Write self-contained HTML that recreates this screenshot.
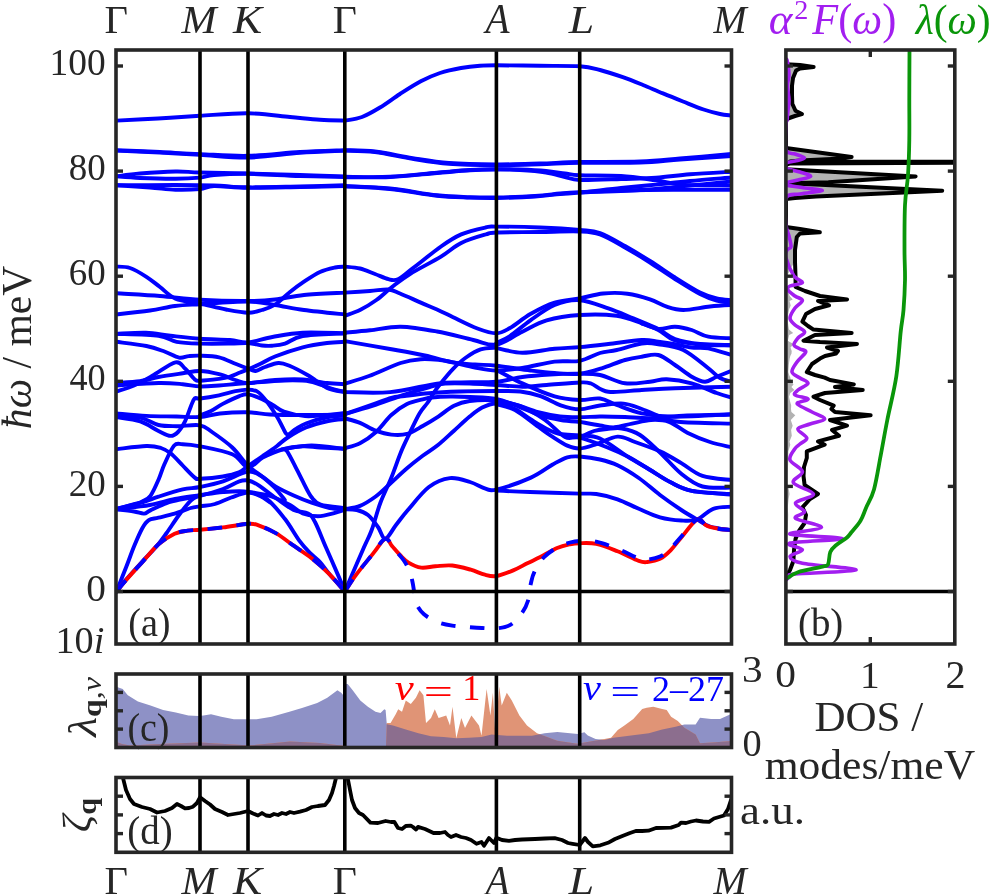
<!DOCTYPE html><html><head><meta charset="utf-8"><style>html,body{margin:0;padding:0;background:#fff;}svg{display:block;}text{font-family:"Liberation Serif","DejaVu Serif",serif;fill:#262626;}.it{font-style:italic;}</style></head><body>
<svg width="990" height="894" viewBox="0 0 990 894">
<rect width="990" height="894" fill="#fff"/>
<defs><clipPath id="cpA"><rect x="116.0" y="50.0" width="615.5" height="594.0"/></clipPath>
<clipPath id="cpB"><rect x="785.9" y="50.0" width="168.9" height="594.0"/></clipPath>
<clipPath id="cpBlue"><path d="M116.5 747.5 L116.5 687.0 L117.7 687.2 L122.7 689.0 L127.8 695.3 L137.9 701.6 L150.5 705.4 L163.1 710.0 L175.8 712.5 L188.4 715.5 L198.5 716.0 L203.5 715.5 L211.0 714.2 L221.2 716.8 L233.8 719.3 L246.5 719.3 L256.6 719.3 L271.7 716.8 L289.4 711.7 L302.0 708.0 L317.2 702.9 L327.3 697.8 L337.4 690.3 L341.2 692.8 L344.0 696.0 L346.0 684.0 L347.7 683.9 L352.7 690.3 L360.3 700.4 L367.9 706.7 L375.5 711.7 L380.5 713.0 L384.3 709.2 L385.6 710.0 L386.8 724.3 L393.0 725.6 L405.8 729.4 L418.4 733.2 L431.0 736.2 L443.6 737.0 L456.3 738.2 L468.9 737.7 L481.5 737.0 L491.6 734.4 L506.8 735.7 L532.0 735.7 L544.6 733.2 L557.3 731.9 L577.8 734.0 L584.4 732.2 L587.8 735.6 L595.6 738.9 L604.4 740.0 L613.3 737.8 L631.1 735.6 L648.9 733.3 L662.2 729.6 L675.6 726.7 L684.4 724.4 L695.6 724.4 L700.0 717.8 L711.1 718.9 L720.0 718.9 L730.0 714.4 L731.5 714.0 L731.5 747.5 Z"/></clipPath>
</defs>
<path d="M116.5 747.5 L116.5 687.0 L117.7 687.2 L122.7 689.0 L127.8 695.3 L137.9 701.6 L150.5 705.4 L163.1 710.0 L175.8 712.5 L188.4 715.5 L198.5 716.0 L203.5 715.5 L211.0 714.2 L221.2 716.8 L233.8 719.3 L246.5 719.3 L256.6 719.3 L271.7 716.8 L289.4 711.7 L302.0 708.0 L317.2 702.9 L327.3 697.8 L337.4 690.3 L341.2 692.8 L344.0 696.0 L346.0 684.0 L347.7 683.9 L352.7 690.3 L360.3 700.4 L367.9 706.7 L375.5 711.7 L380.5 713.0 L384.3 709.2 L385.6 710.0 L386.8 724.3 L393.0 725.6 L405.8 729.4 L418.4 733.2 L431.0 736.2 L443.6 737.0 L456.3 738.2 L468.9 737.7 L481.5 737.0 L491.6 734.4 L506.8 735.7 L532.0 735.7 L544.6 733.2 L557.3 731.9 L577.8 734.0 L584.4 732.2 L587.8 735.6 L595.6 738.9 L604.4 740.0 L613.3 737.8 L631.1 735.6 L648.9 733.3 L662.2 729.6 L675.6 726.7 L684.4 724.4 L695.6 724.4 L700.0 717.8 L711.1 718.9 L720.0 718.9 L730.0 714.4 L731.5 714.0 L731.5 747.5 Z" fill="#8e91c6"/>
<path d="M116.5 747.5 L116.5 742.0 L122.0 744.0 L130.0 745.5 L160.0 744.0 L200.0 742.5 L225.0 744.0 L250.0 745.5 L270.0 743.5 L290.0 741.5 L320.0 743.0 L345.0 746.0 L386.0 746.0 L386.8 723.0 L390.6 723.0 L395.7 714.2 L398.2 709.2 L402.0 711.7 L405.8 700.4 L410.8 704.1 L415.9 697.8 L419.6 690.3 L423.4 695.3 L426.0 723.0 L431.0 718.0 L434.8 709.2 L438.6 718.0 L446.2 715.5 L450.0 725.6 L452.5 706.7 L456.3 738.2 L461.3 718.0 L465.0 728.0 L471.4 715.5 L479.0 725.6 L481.5 735.7 L486.6 689.0 L490.4 715.5 L492.9 692.8 L495.4 735.7 L499.2 686.5 L501.7 705.4 L506.8 692.8 L511.8 700.4 L519.4 715.5 L527.0 725.6 L537.0 733.2 L557.3 740.8 L577.5 743.8 L604.4 738.9 L611.0 737.8 L617.8 730.0 L624.4 725.6 L633.3 718.9 L642.2 708.9 L646.7 707.8 L653.3 706.7 L662.2 708.9 L666.7 710.0 L671.1 716.7 L677.8 721.1 L684.4 727.8 L695.6 734.4 L700.0 743.3 L715.6 742.2 L731.5 741.0 L731.5 747.5 Z" fill="#e09476"/>
<path d="M116.5 747.5 L116.5 742.0 L122.0 744.0 L130.0 745.5 L160.0 744.0 L200.0 742.5 L225.0 744.0 L250.0 745.5 L270.0 743.5 L290.0 741.5 L320.0 743.0 L345.0 746.0 L386.0 746.0 L386.8 723.0 L390.6 723.0 L395.7 714.2 L398.2 709.2 L402.0 711.7 L405.8 700.4 L410.8 704.1 L415.9 697.8 L419.6 690.3 L423.4 695.3 L426.0 723.0 L431.0 718.0 L434.8 709.2 L438.6 718.0 L446.2 715.5 L450.0 725.6 L452.5 706.7 L456.3 738.2 L461.3 718.0 L465.0 728.0 L471.4 715.5 L479.0 725.6 L481.5 735.7 L486.6 689.0 L490.4 715.5 L492.9 692.8 L495.4 735.7 L499.2 686.5 L501.7 705.4 L506.8 692.8 L511.8 700.4 L519.4 715.5 L527.0 725.6 L537.0 733.2 L557.3 740.8 L577.5 743.8 L604.4 738.9 L611.0 737.8 L617.8 730.0 L624.4 725.6 L633.3 718.9 L642.2 708.9 L646.7 707.8 L653.3 706.7 L662.2 708.9 L666.7 710.0 L671.1 716.7 L677.8 721.1 L684.4 727.8 L695.6 734.4 L700.0 743.3 L715.6 742.2 L731.5 741.0 L731.5 747.5 Z" fill="#8c6e8e" clip-path="url(#cpBlue)"/>
<g clip-path="url(#cpA)" fill="none" stroke-linecap="round" stroke-linejoin="round">
<path d="M116.5 120.6 C123.4 120.2 144.1 119.3 158.0 118.5 C171.9 117.7 185.0 116.7 200.0 115.8 C215.0 114.9 233.0 113.1 248.0 113.3 C263.0 113.5 278.0 115.9 290.0 117.0 C302.0 118.1 310.9 119.2 320.0 119.8 C329.1 120.4 340.7 120.5 344.8 120.6" stroke="#0000ff" stroke-width="3.9"/>
<path d="M116.5 150.2 C123.8 150.5 146.1 151.3 160.0 152.0 C173.9 152.7 185.3 153.5 200.0 154.1 C214.7 154.7 231.3 156.2 248.0 155.8 C264.7 155.5 283.9 152.9 300.0 152.0 C316.1 151.1 337.3 150.5 344.8 150.2" stroke="#0000ff" stroke-width="3.9"/>
<path d="M116.5 150.6 C123.8 150.9 146.1 151.9 160.0 152.6 C173.9 153.3 185.3 154.0 200.0 154.8 C214.7 155.6 231.3 157.9 248.0 157.6 C264.7 157.3 283.9 154.0 300.0 152.8 C316.1 151.6 337.3 151.0 344.8 150.6" stroke="#0000ff" stroke-width="3.9"/>
<path d="M116.5 176.4 C120.4 175.9 130.2 174.3 140.0 173.5 C149.8 172.7 165.5 171.7 175.5 171.5 C185.5 171.3 187.9 172.2 200.0 172.5 C212.1 172.8 231.3 173.1 248.0 173.5 C264.7 173.9 283.9 174.5 300.0 175.0 C316.1 175.5 337.3 176.2 344.8 176.4" stroke="#0000ff" stroke-width="3.9"/>
<path d="M116.5 176.4 C120.4 176.7 130.2 177.6 140.0 178.0 C149.8 178.4 165.5 178.9 175.5 178.8 C185.5 178.7 193.6 178.2 200.0 177.6 C206.4 177.0 206.0 175.6 214.0 175.0 C222.0 174.4 233.7 173.6 248.0 173.8 C262.3 174.0 283.9 175.5 300.0 176.0 C316.1 176.5 337.3 176.8 344.8 177.0" stroke="#0000ff" stroke-width="3.9"/>
<path d="M116.5 185.3 C126.2 185.2 158.8 185.0 175.0 185.0 C191.2 185.0 201.8 185.1 214.0 185.5 C226.2 185.9 233.7 187.1 248.0 187.3 C262.3 187.5 283.9 186.8 300.0 186.5 C316.1 186.2 337.3 185.5 344.8 185.3" stroke="#0000ff" stroke-width="3.9"/>
<path d="M116.5 185.3 C122.1 185.7 140.2 186.8 150.0 187.5 C159.8 188.2 167.2 189.4 175.5 189.7 C183.8 189.9 193.6 189.6 200.0 189.0 C206.4 188.4 206.0 186.2 214.0 186.0 C222.0 185.8 233.7 187.6 248.0 187.8 C262.3 188.0 283.9 187.3 300.0 187.0 C316.1 186.7 337.3 186.2 344.8 186.0" stroke="#0000ff" stroke-width="3.9"/>
<path d="M116.5 266.6 C118.8 266.8 125.0 266.3 130.0 268.0 C135.0 269.7 141.4 273.6 146.4 276.8 C151.4 280.0 155.2 283.4 160.0 287.0 C164.8 290.6 168.8 295.9 175.5 298.6 C182.2 301.4 191.6 301.7 200.0 303.5 C208.4 305.3 218.0 308.0 226.0 309.5 C234.0 311.0 242.0 312.6 248.0 312.7 C254.0 312.8 257.5 311.3 262.0 310.0 C266.5 308.7 270.3 307.7 275.0 304.7 C279.7 301.7 285.2 295.8 290.0 292.0 C294.8 288.2 299.0 285.0 304.0 281.7 C309.0 278.4 314.8 274.4 320.0 272.0 C325.2 269.6 330.9 268.4 335.0 267.5 C339.1 266.6 343.2 266.8 344.8 266.6" stroke="#0000ff" stroke-width="3.9"/>
<path d="M116.5 293.3 C123.8 293.8 146.1 294.9 160.0 296.0 C173.9 297.1 185.3 299.0 200.0 299.8 C214.7 300.6 235.5 301.1 248.0 301.0 C260.5 300.9 265.7 300.5 275.0 299.5 C284.3 298.5 292.4 296.1 304.0 295.0 C315.6 293.9 338.0 293.0 344.8 292.6" stroke="#0000ff" stroke-width="3.9"/>
<path d="M116.5 314.4 C122.1 313.8 140.2 311.9 150.0 310.5 C159.8 309.1 166.7 307.1 175.0 306.0 C183.3 304.9 187.8 304.9 200.0 304.2 C212.2 303.4 235.5 301.4 248.0 301.5 C260.5 301.6 265.7 303.6 275.0 305.0 C284.3 306.4 292.4 308.4 304.0 310.0 C315.6 311.6 338.0 313.7 344.8 314.4" stroke="#0000ff" stroke-width="3.9"/>
<path d="M116.5 333.9 C121.4 333.7 137.0 332.4 146.0 332.7 C155.0 333.0 161.6 334.8 170.6 335.8 C179.6 336.8 190.1 338.1 200.0 338.8 C209.9 339.5 222.0 339.4 230.0 340.0 C238.0 340.6 240.9 342.9 248.0 342.4 C255.1 341.9 263.3 338.6 272.4 337.0 C281.5 335.4 290.6 333.3 302.7 332.7 C314.8 332.1 337.8 333.2 344.8 333.3" stroke="#0000ff" stroke-width="3.9"/>
<path d="M116.5 333.9 C123.5 334.2 148.5 334.5 158.5 335.8 C168.5 337.1 169.8 340.5 176.7 341.8 C183.6 343.1 191.1 343.3 200.0 343.6 C208.9 343.9 222.0 343.7 230.0 343.6 C238.0 343.5 242.7 342.7 248.0 343.0 C253.3 343.3 258.0 345.1 262.0 345.5 C266.0 345.9 268.2 346.0 272.0 345.7 C275.8 345.4 279.9 345.2 285.0 343.6 C290.1 342.0 292.7 337.7 302.7 336.0 C312.7 334.3 337.8 333.8 344.8 333.3" stroke="#0000ff" stroke-width="3.9"/>
<path d="M116.5 341.8 C121.5 342.5 138.4 344.4 146.4 346.0 C154.4 347.6 159.1 349.6 164.5 351.5 C169.9 353.4 174.9 356.8 179.0 357.6 C183.1 358.4 185.3 356.4 188.8 356.1 C192.3 355.8 195.0 355.5 200.0 355.7 C205.0 355.9 213.1 356.0 219.0 357.3 C224.9 358.6 230.6 361.8 235.4 363.7 C240.2 365.6 244.6 367.4 248.0 368.6 C251.4 369.8 252.8 371.3 255.6 371.0 C258.4 370.7 261.2 368.3 265.0 367.0 C268.8 365.7 274.3 363.2 278.5 363.0 C282.7 362.8 284.9 363.9 290.0 366.0 C295.1 368.1 302.6 372.2 308.8 375.8 C315.0 379.4 321.0 385.2 327.0 387.9 C333.0 390.6 341.8 391.4 344.8 392.1" stroke="#0000ff" stroke-width="3.9"/>
<path d="M116.5 391.5 C119.4 390.5 128.0 388.1 134.0 385.5 C140.0 382.9 145.5 379.7 152.4 375.8 C159.3 371.9 170.1 363.6 175.5 362.4 C180.9 361.2 181.8 365.7 185.0 368.5 C188.2 371.3 192.3 377.4 194.8 379.4 C197.3 381.4 196.0 380.8 200.0 380.7 C204.0 380.6 214.2 379.5 219.0 378.9 C223.8 378.3 225.5 378.1 229.0 377.0 C232.5 375.9 236.8 373.8 240.0 372.5 C243.2 371.2 244.7 370.8 248.0 369.4 C251.3 368.0 255.5 366.1 260.0 364.0 C264.5 361.9 267.9 359.3 275.0 356.5 C282.1 353.7 294.0 349.6 302.7 347.3 C311.4 345.1 320.0 343.9 327.0 343.0 C334.0 342.1 341.8 342.0 344.8 341.8" stroke="#0000ff" stroke-width="3.9"/>
<path d="M116.5 383.0 C120.4 382.7 133.0 382.2 140.0 381.2 C147.0 380.2 151.4 378.3 158.5 377.0 C165.6 375.7 175.8 374.3 182.7 373.3 C189.6 372.3 193.9 370.9 200.0 371.0 C206.1 371.1 213.1 372.7 219.0 374.2 C224.9 375.7 230.6 378.5 235.4 380.0 C240.2 381.5 241.4 383.1 248.0 383.1 C254.6 383.1 265.9 380.6 275.0 380.0 C284.1 379.4 294.0 379.0 302.7 379.5 C311.4 380.0 320.0 382.2 327.0 383.0 C334.0 383.8 341.8 384.0 344.8 384.2" stroke="#0000ff" stroke-width="3.9"/>
<path d="M116.5 385.5 C123.5 385.1 147.5 383.2 158.5 383.0 C169.5 382.8 175.8 383.6 182.7 384.2 C189.6 384.8 193.9 386.2 200.0 386.4 C206.1 386.6 213.1 385.9 219.0 385.5 C224.9 385.1 230.6 384.4 235.4 384.0 C240.2 383.6 239.7 383.7 248.0 383.1 C256.3 382.5 274.7 380.8 285.0 380.5 C295.3 380.2 302.5 380.2 310.0 381.5 C317.5 382.8 324.2 386.2 330.0 388.0 C335.8 389.8 342.3 391.3 344.8 392.0" stroke="#0000ff" stroke-width="3.9"/>
<path d="M116.5 413.5 C121.5 413.9 136.4 415.4 146.4 415.9 C156.4 416.4 167.8 416.3 176.7 416.5 C185.6 416.7 192.8 417.5 200.0 417.0 C207.2 416.5 212.0 414.3 220.0 413.5 C228.0 412.7 239.7 412.1 248.0 412.3 C256.3 412.5 261.3 414.1 270.0 414.5 C278.7 414.9 287.5 415.0 300.0 415.0 C312.5 415.0 337.3 414.8 344.8 414.7" stroke="#0000ff" stroke-width="3.9"/>
<path d="M116.5 417.1 C120.5 417.8 133.3 419.1 140.3 421.4 C147.3 423.7 153.4 428.6 158.5 431.0 C163.6 433.4 167.3 435.7 170.6 435.9 C173.8 436.1 175.6 434.4 178.0 432.0 C180.4 429.6 182.8 425.7 185.0 421.4 C187.2 417.1 189.4 409.9 191.0 406.0 C192.6 402.1 193.3 399.6 194.8 398.3 C196.3 397.1 196.0 399.0 200.0 398.5 C204.0 398.0 213.1 396.5 219.0 395.3 C224.9 394.1 230.6 392.1 235.4 391.2 C240.2 390.2 244.2 389.5 248.0 389.6 C251.8 389.7 254.7 389.8 258.0 392.0 C261.3 394.2 264.4 398.4 267.6 402.6 C270.8 406.8 274.7 413.0 277.3 417.2 C279.9 421.4 281.3 425.1 283.0 428.0 C284.7 430.9 285.5 434.2 287.5 434.5 C289.5 434.8 291.9 431.3 295.0 429.5 C298.1 427.7 300.3 425.6 305.9 423.5 C311.4 421.4 321.8 418.3 328.3 417.0 C334.8 415.7 342.1 415.9 344.8 415.7" stroke="#0000ff" stroke-width="3.9"/>
<path d="M116.5 416.0 C120.5 416.3 133.3 416.2 140.3 417.7 C147.3 419.2 152.4 423.6 158.5 425.0 C164.6 426.4 169.8 426.1 176.7 426.2 C183.6 426.2 194.1 424.3 200.0 425.3 C205.9 426.3 206.6 428.3 212.0 432.0 C217.4 435.7 226.3 441.9 232.3 447.5 C238.3 453.1 242.9 460.8 248.0 465.7 C253.1 470.6 258.2 473.3 262.7 477.0 C267.2 480.7 271.3 484.2 275.0 488.0 C278.7 491.8 283.2 498.0 284.8 500.0" stroke="#0000ff" stroke-width="3.9"/>
<path d="M200.0 415.3 C201.8 414.6 207.2 412.9 211.0 411.0 C214.8 409.1 218.1 406.4 222.8 403.9 C227.5 401.4 235.2 397.7 239.4 396.1 C243.6 394.5 244.3 393.9 248.0 394.4 C251.7 394.9 257.6 397.1 261.7 398.9 C265.8 400.7 269.1 402.9 272.8 405.0 C276.5 407.1 278.5 409.8 283.9 411.7 C289.3 413.6 298.1 415.6 305.0 416.1 C311.9 416.7 318.4 415.5 325.0 415.0 C331.6 414.5 341.5 413.3 344.8 413.0" stroke="#0000ff" stroke-width="3.9"/>
<path d="M116.5 449.1 C121.5 448.6 139.0 446.2 146.4 446.0 C153.8 445.8 157.0 446.8 161.0 448.0 C165.0 449.2 167.0 450.4 170.6 453.3 C174.2 456.2 178.7 461.4 182.7 465.5 C186.7 469.6 191.9 475.4 194.8 477.6 C197.7 479.8 195.3 479.0 200.0 478.8 C204.7 478.6 216.5 477.6 223.0 476.5 C229.5 475.4 234.8 474.1 239.0 472.4 C243.2 470.6 244.1 468.7 248.0 466.0 C251.9 463.3 257.9 459.3 262.7 456.0 C267.5 452.7 272.9 449.0 277.0 446.0 C281.1 443.0 282.2 441.1 287.0 438.0 C291.8 434.9 299.0 430.3 305.9 427.5 C312.8 424.7 321.8 422.4 328.3 421.0 C334.8 419.6 342.1 419.3 344.8 419.0" stroke="#0000ff" stroke-width="3.9"/>
<path d="M116.5 509.0 C119.6 508.2 130.7 505.2 135.0 504.0 C139.3 502.8 139.7 502.9 142.3 501.5 C144.9 500.1 147.7 499.5 150.4 495.9 C153.1 492.3 156.2 485.0 158.5 479.7 C160.8 474.4 161.9 469.7 164.5 464.0 C167.1 458.3 171.2 448.8 174.2 445.5 C177.2 442.2 178.4 444.1 182.7 444.2 C187.0 444.3 191.7 444.6 200.0 446.3 C208.3 448.0 224.3 450.8 232.3 454.3 C240.3 457.8 242.9 466.8 248.0 467.3 C253.1 467.9 257.0 460.6 262.7 457.6 C268.4 454.6 275.3 451.4 282.0 449.5 C288.7 447.6 296.7 446.6 303.0 446.3 C309.3 446.0 313.0 447.1 320.0 447.5 C327.0 447.9 340.7 448.5 344.8 448.7" stroke="#0000ff" stroke-width="3.9"/>
<path d="M116.5 508.8 C120.8 507.7 135.3 504.3 142.3 502.3 C149.3 500.3 151.8 498.9 158.5 496.7 C165.2 494.5 175.8 491.0 182.7 489.4 C189.6 487.8 193.3 488.4 200.0 487.0 C206.7 485.6 215.0 483.9 223.0 481.3 C231.0 478.7 241.5 472.4 248.0 471.6 C254.5 470.8 257.4 474.0 262.0 476.5 C266.6 479.0 270.5 483.4 275.8 486.6 C281.1 489.8 287.7 492.8 293.7 495.5 C299.7 498.2 305.6 500.6 311.6 502.7 C317.6 504.8 324.1 506.9 329.6 508.0 C335.1 509.1 342.3 508.8 344.8 509.0" stroke="#0000ff" stroke-width="3.9"/>
<path d="M116.5 509.5 C119.4 509.8 129.4 510.8 134.0 511.5 C138.6 512.2 141.3 513.8 144.0 513.6 C146.7 513.4 146.6 512.1 150.4 510.4 C154.2 508.6 161.2 505.0 166.6 503.1 C172.0 501.2 177.1 500.3 182.7 499.1 C188.3 497.9 193.3 497.6 200.0 495.9 C206.7 494.2 216.4 491.4 223.0 489.0 C229.6 486.6 235.1 482.7 239.3 481.3 C243.5 479.9 244.9 479.9 248.0 480.5 C251.1 481.1 253.3 481.9 257.9 484.8 C262.5 487.7 269.8 493.8 275.8 498.0 C281.8 502.2 288.3 507.3 293.7 509.9 C299.1 512.5 304.4 511.4 308.0 513.4 C311.6 515.4 312.0 516.3 315.0 522.0 C318.0 527.7 322.1 538.5 326.0 547.5 C329.9 556.5 335.4 568.8 338.5 576.1 C341.6 583.4 343.8 588.9 344.8 591.5" stroke="#0000ff" stroke-width="3.9"/>
<path d="M116.5 509.0 C122.1 508.3 140.2 506.7 150.0 505.0 C159.8 503.3 166.7 500.6 175.0 499.0 C183.3 497.4 192.0 496.4 200.0 495.2 C208.0 494.0 215.0 492.6 223.0 492.0 C231.0 491.4 240.7 490.6 248.0 491.8 C255.3 493.0 260.8 494.6 266.9 499.1 C273.0 503.6 279.4 511.9 284.8 518.8 C290.2 525.7 294.9 534.6 299.1 540.3 C303.3 546.0 306.4 549.2 309.9 552.8 C313.4 556.4 316.7 558.4 320.0 562.0 C323.3 565.6 325.5 569.4 329.6 574.3 C333.7 579.2 342.3 588.6 344.8 591.5" stroke="#0000ff" stroke-width="3.9"/>
<path d="M248.0 491.8 C251.7 492.5 263.0 493.8 270.0 496.0 C277.0 498.2 284.6 502.1 290.0 505.0 C295.4 507.9 297.6 511.5 302.7 513.4 C307.8 515.2 313.6 516.7 320.6 516.1 C327.6 515.5 340.8 510.9 344.8 509.9" stroke="#0000ff" stroke-width="3.9"/>
<path d="M282.0 449.5 C282.8 449.7 284.7 448.4 286.6 450.7 C288.6 453.0 291.0 458.2 293.7 463.3 C296.4 468.4 299.7 475.5 302.7 481.2 C305.7 486.9 308.6 493.4 311.6 497.3 C314.6 501.2 315.1 502.7 320.6 504.5 C326.1 506.3 340.8 507.4 344.8 508.0" stroke="#0000ff" stroke-width="3.9"/>
<path d="M284.8 449.0 C289.3 448.4 301.6 445.4 311.6 445.4 C321.6 445.4 339.3 448.4 344.8 449.0" stroke="#0000ff" stroke-width="3.9"/>
<path d="M116.5 591.5 C118.1 587.4 123.2 574.6 126.2 567.0 C129.2 559.4 131.5 552.5 134.2 546.0 C136.9 539.5 139.9 532.5 142.3 528.2 C144.7 523.9 146.1 521.9 148.8 520.1 C151.5 518.4 154.2 518.8 158.5 517.7 C162.8 516.6 169.2 515.2 174.6 513.6 C180.0 512.0 186.6 509.2 190.8 508.0 C195.0 506.8 196.0 507.1 200.0 506.4 C204.0 505.7 209.8 505.5 215.0 504.0 C220.2 502.5 225.7 499.4 231.2 497.5 C236.7 495.6 243.2 492.9 248.0 492.6 C252.8 492.4 256.3 494.4 260.0 496.0 C263.7 497.6 268.3 501.2 270.0 502.3" stroke="#0000ff" stroke-width="3.9"/>
<path d="M116.5 591.5 C118.1 589.5 121.9 584.5 126.2 579.5 C130.5 574.5 137.2 567.1 142.3 561.5 C147.4 555.9 152.9 550.8 156.9 546.0 C160.9 541.2 162.9 538.2 166.6 533.0 C170.3 527.8 175.0 520.4 179.0 515.0 C183.0 509.6 187.3 504.0 190.8 500.7 C194.3 497.4 198.5 495.9 200.0 495.0" stroke="#0000ff" stroke-width="3.9"/>
<path d="M344.8 120.6 C347.7 120.0 356.1 119.2 362.0 117.0 C367.9 114.8 373.7 111.3 380.0 107.5 C386.3 103.7 393.2 98.4 400.0 94.0 C406.8 89.6 414.1 84.8 420.8 81.3 C427.5 77.8 433.3 75.2 440.0 73.0 C446.7 70.8 454.3 69.2 461.0 68.0 C467.7 66.8 474.1 66.2 480.0 65.8 C485.9 65.3 486.4 65.3 496.4 65.3 C506.4 65.3 526.1 65.6 540.0 65.8 C553.9 66.0 569.7 65.6 579.7 66.3 C589.7 67.0 592.8 68.2 600.0 70.0 C607.2 71.8 615.6 74.7 622.8 77.2 C630.0 79.7 636.3 82.3 643.0 85.0 C649.7 87.7 656.3 90.7 663.0 93.4 C669.7 96.2 676.2 98.8 683.0 101.5 C689.8 104.2 697.4 107.4 703.6 109.5 C709.8 111.6 715.4 113.0 720.0 114.0 C724.6 115.0 729.6 115.3 731.5 115.6" stroke="#0000ff" stroke-width="3.9"/>
<path d="M344.8 150.2 C349.8 150.4 363.7 150.2 375.0 151.5 C386.3 152.8 400.4 156.3 412.7 158.2 C425.0 160.1 435.1 162.0 449.0 163.0 C462.9 164.0 481.2 164.3 496.4 164.4 C511.6 164.5 526.1 163.9 540.0 163.5 C553.9 163.1 563.0 162.3 579.7 162.0 C596.4 161.7 623.3 162.1 640.0 161.5 C656.7 160.9 664.8 159.8 680.0 158.5 C695.2 157.2 722.9 154.8 731.5 154.0" stroke="#0000ff" stroke-width="3.9"/>
<path d="M344.8 150.6 C349.8 150.8 363.7 150.6 375.0 152.0 C386.3 153.4 400.4 156.8 412.7 158.8 C425.0 160.8 435.1 162.7 449.0 163.8 C462.9 164.9 481.2 165.1 496.4 165.2 C511.6 165.3 526.1 164.7 540.0 164.3 C553.9 163.9 563.0 163.1 579.7 162.8 C596.4 162.5 623.3 163.1 640.0 162.5 C656.7 161.9 664.8 160.6 680.0 159.5 C695.2 158.4 722.9 156.6 731.5 156.0" stroke="#0000ff" stroke-width="3.9"/>
<path d="M344.8 176.8 C352.3 176.8 374.6 177.5 390.0 176.8 C405.4 176.1 423.7 173.8 437.0 172.7 C450.3 171.6 460.1 170.6 470.0 170.0 C479.9 169.4 488.1 169.2 496.4 169.1 C504.7 169.0 511.7 169.2 520.0 169.5 C528.3 169.8 538.5 170.3 546.0 171.0 C553.5 171.7 559.4 172.8 565.0 173.5 C570.6 174.2 570.4 174.8 579.7 175.2 C589.0 175.6 608.3 175.2 621.0 176.0 C633.7 176.8 645.8 178.9 656.0 180.3 C666.2 181.7 669.4 183.7 682.0 184.6 C694.6 185.5 723.2 185.3 731.5 185.5" stroke="#0000ff" stroke-width="3.9"/>
<path d="M344.8 177.2 C352.3 177.2 374.6 177.7 390.0 177.0 C405.4 176.3 423.7 174.1 437.0 173.0 C450.3 171.9 460.1 170.9 470.0 170.3 C479.9 169.7 488.1 169.6 496.4 169.5 C504.7 169.4 511.7 169.5 520.0 170.0 C528.3 170.5 538.5 171.3 546.0 172.5 C553.5 173.7 559.4 175.8 565.0 177.0 C570.6 178.2 570.4 179.7 579.7 180.0 C589.0 180.3 608.3 179.4 621.0 179.0 C633.7 178.6 644.5 178.6 656.0 177.8 C667.5 177.0 677.4 175.3 690.0 174.3 C702.6 173.3 724.6 172.2 731.5 171.8" stroke="#0000ff" stroke-width="3.9"/>
<path d="M344.8 186.0 C352.3 186.4 374.6 186.9 390.0 188.5 C405.4 190.1 423.7 193.9 437.0 195.3 C450.3 196.8 460.1 196.8 470.0 197.2 C479.9 197.6 485.6 197.7 496.4 197.5 C507.2 197.3 524.4 196.7 535.0 196.0 C545.6 195.3 552.5 194.2 560.0 193.5 C567.5 192.8 569.5 192.6 579.7 192.1 C589.9 191.6 605.5 191.0 621.0 190.6 C636.5 190.2 654.6 189.9 673.0 189.8 C691.4 189.7 721.8 189.8 731.5 189.8" stroke="#0000ff" stroke-width="3.9"/>
<path d="M344.8 186.3 C352.3 186.8 374.6 187.4 390.0 189.0 C405.4 190.6 423.7 194.4 437.0 195.8 C450.3 197.2 460.1 197.2 470.0 197.6 C479.9 198.0 485.6 198.2 496.4 198.0 C507.2 197.8 524.4 197.2 535.0 196.5 C545.6 195.8 552.5 194.7 560.0 194.0 C567.5 193.3 569.5 193.6 579.7 192.6 C589.9 191.6 608.3 189.3 621.0 188.0 C633.7 186.7 644.5 185.8 656.0 184.6 C667.5 183.4 677.4 182.2 690.0 181.0 C702.6 179.8 724.6 178.1 731.5 177.5" stroke="#0000ff" stroke-width="3.9"/>
<path d="M579.7 192.5 C589.8 192.1 621.6 191.2 640.0 190.0 C658.4 188.8 674.8 186.9 690.0 185.5 C705.2 184.1 724.6 182.2 731.5 181.5" stroke="#0000ff" stroke-width="3.9"/>
<path d="M344.8 266.6 C347.3 266.9 355.0 267.3 360.0 268.5 C365.0 269.7 370.2 272.2 375.0 274.0 C379.8 275.8 384.7 278.3 388.5 279.2 C392.3 280.1 394.0 281.0 398.0 279.2 C402.0 277.4 405.5 273.8 412.7 268.3 C419.9 262.9 432.9 252.2 441.0 246.5 C449.1 240.8 453.8 237.6 461.2 234.4 C468.6 231.2 479.6 228.8 485.5 227.5 C491.4 226.2 487.3 226.6 496.4 226.6 C505.5 226.6 526.1 226.9 540.0 227.5 C553.9 228.1 569.7 229.1 579.7 230.0 C589.7 230.9 592.5 230.3 600.0 233.0 C607.5 235.7 616.7 241.3 625.0 246.0 C633.3 250.7 641.7 255.8 650.0 261.0 C658.3 266.2 666.7 272.2 675.0 277.5 C683.3 282.8 693.0 289.0 700.0 292.5 C707.0 296.0 711.5 297.2 716.7 298.5 C722.0 299.8 729.0 300.0 731.5 300.3" stroke="#0000ff" stroke-width="3.9"/>
<path d="M344.8 315.8 C347.3 314.8 354.7 312.6 360.0 310.0 C365.3 307.4 371.1 303.8 376.4 300.0 C381.7 296.2 386.4 291.3 392.0 287.0 C397.6 282.7 401.8 279.1 410.0 274.0 C418.2 268.9 432.5 261.8 441.0 256.6 C449.5 251.4 453.8 246.7 461.2 243.0 C468.6 239.3 479.6 236.2 485.5 234.5 C491.4 232.8 487.3 232.9 496.4 232.5 C505.5 232.1 526.1 232.2 540.0 232.0 C553.9 231.8 569.7 231.1 579.7 231.5 C589.7 231.9 592.5 231.8 600.0 234.5 C607.5 237.2 616.7 242.8 625.0 247.5 C633.3 252.2 641.7 257.2 650.0 262.5 C658.3 267.8 666.7 273.8 675.0 279.0 C683.3 284.2 693.0 290.4 700.0 294.0 C707.0 297.6 711.5 299.1 716.7 300.5 C722.0 301.9 729.0 302.2 731.5 302.5" stroke="#0000ff" stroke-width="3.9"/>
<path d="M344.8 292.6 C349.0 292.3 362.7 291.5 370.0 291.0 C377.3 290.5 383.5 289.1 388.5 289.5 C393.5 289.9 394.6 291.3 400.0 293.5 C405.4 295.7 414.6 299.9 420.8 302.6 C427.0 305.3 431.6 307.1 437.0 309.5 C442.4 311.9 446.4 314.0 453.1 317.2 C459.8 320.4 470.2 325.8 477.4 328.5 C484.6 331.2 491.0 333.4 496.4 333.3 C501.8 333.2 504.3 331.2 510.0 328.0 C515.7 324.8 523.0 318.2 530.4 314.0 C537.8 309.8 546.4 305.2 554.6 302.6 C562.8 300.0 571.6 299.8 579.7 298.3 C587.8 296.8 595.2 294.3 603.1 293.5 C611.0 292.7 619.6 292.7 627.4 293.7 C635.2 294.7 643.5 297.2 650.0 299.4 C656.5 301.6 661.2 304.9 666.7 306.7 C672.2 308.5 676.1 310.0 683.3 310.0 C690.5 310.0 702.0 307.3 710.0 306.5 C718.0 305.7 727.9 305.2 731.5 305.0" stroke="#0000ff" stroke-width="3.9"/>
<path d="M496.4 343.0 C498.7 341.8 504.3 339.8 510.0 336.0 C515.7 332.2 523.0 325.6 530.4 320.4 C537.8 315.2 546.4 308.4 554.6 305.0 C562.8 301.6 570.8 299.6 579.7 300.2 C588.7 300.8 599.4 305.3 608.3 308.3 C617.2 311.3 625.0 314.9 633.3 318.3 C641.6 321.8 651.3 325.6 658.3 329.0 C665.2 332.4 668.0 336.5 675.0 339.0 C682.0 341.5 690.6 343.0 700.0 344.0 C709.4 345.0 726.2 344.8 731.5 345.0" stroke="#0000ff" stroke-width="3.9"/>
<path d="M344.8 332.7 C349.0 332.3 360.7 331.3 370.0 330.3 C379.3 329.3 389.4 326.5 400.6 326.7 C411.8 326.9 424.9 329.3 437.0 331.5 C449.1 333.7 463.4 337.8 473.3 340.0 C483.2 342.2 488.2 346.0 496.4 344.6 C504.6 343.2 513.9 335.7 522.3 331.7 C530.7 327.7 537.0 323.2 546.6 320.4 C556.2 317.6 568.0 315.8 579.7 315.0 C591.4 314.2 606.4 314.4 616.7 315.8 C627.0 317.2 634.8 320.9 641.7 323.3 C648.6 325.7 652.8 327.1 658.3 330.0 C663.8 332.9 668.0 338.1 675.0 340.5 C682.0 342.9 690.6 343.7 700.0 344.5 C709.4 345.3 726.2 345.3 731.5 345.5" stroke="#0000ff" stroke-width="3.9"/>
<path d="M641.7 323.3 C644.5 324.2 652.8 328.4 658.3 329.0 C663.8 329.6 669.4 326.5 675.0 326.7 C680.6 326.9 686.2 328.3 691.7 330.0 C697.2 331.7 701.7 335.3 708.3 336.7 C714.9 338.1 727.6 338.0 731.5 338.3" stroke="#0000ff" stroke-width="3.9"/>
<path d="M344.8 341.2 C352.3 342.5 376.7 346.6 390.0 349.0 C403.3 351.4 414.3 353.3 424.8 355.5 C435.3 357.7 444.6 360.9 453.0 362.4 C461.4 363.9 467.8 363.9 475.0 364.5 C482.2 365.1 487.2 364.7 496.4 365.7 C505.6 366.7 520.7 369.3 530.4 370.5 C540.1 371.7 546.4 372.5 554.6 373.0 C562.8 373.5 571.9 374.5 579.7 373.7 C587.6 372.9 594.2 370.6 601.7 368.3 C609.2 366.0 618.3 361.9 625.0 360.0 C631.7 358.1 636.2 357.5 641.7 356.7 C647.2 355.9 652.8 353.6 658.3 355.0 C663.8 356.4 669.4 361.4 675.0 365.0 C680.6 368.6 686.7 373.9 691.7 376.7 C696.7 379.5 700.8 381.7 705.0 381.7 C709.2 381.7 712.3 378.5 716.7 376.7 C721.1 374.9 729.0 371.8 731.5 370.8" stroke="#0000ff" stroke-width="3.9"/>
<path d="M496.4 347.9 C500.7 348.7 512.6 352.6 522.3 352.7 C532.0 352.8 545.0 349.6 554.6 348.7 C564.2 347.8 570.8 347.9 579.7 347.1 C588.7 346.3 598.0 345.2 608.3 344.0 C618.6 342.8 633.4 340.4 641.7 340.0 C650.0 339.6 652.8 341.0 658.3 341.7 C663.8 342.4 669.4 343.2 675.0 344.2 C680.6 345.2 686.2 346.8 691.7 347.5 C697.2 348.2 701.7 347.1 708.3 348.3 C714.9 349.6 727.6 353.9 731.5 355.0" stroke="#0000ff" stroke-width="3.9"/>
<path d="M344.8 383.6 C348.8 382.3 359.7 379.4 369.0 376.0 C378.3 372.6 392.0 365.8 400.6 363.0 C409.2 360.2 414.2 359.7 420.8 359.2 C427.4 358.7 434.6 359.5 440.0 360.0 C445.4 360.5 447.2 361.1 453.0 362.4 C458.8 363.6 467.8 366.1 475.0 367.5 C482.2 368.9 488.5 370.4 496.4 370.5 C504.3 370.6 512.6 369.5 522.3 368.0 C532.0 366.5 545.0 362.8 554.6 361.6 C564.2 360.4 572.1 362.2 579.7 360.8 C587.3 359.4 593.8 354.8 600.0 353.0 C606.2 351.2 609.8 351.6 616.7 350.0 C623.7 348.4 634.8 344.5 641.7 343.5 C648.6 342.5 651.4 343.1 658.3 344.2 C665.2 345.3 675.0 346.0 683.3 350.0 C691.6 354.0 702.2 363.6 708.3 368.3 C714.4 373.0 716.1 375.8 720.0 378.0 C723.9 380.2 729.6 381.1 731.5 381.7" stroke="#0000ff" stroke-width="3.9"/>
<path d="M344.8 392.1 C352.3 392.1 374.6 393.5 390.0 392.1 C405.4 390.7 425.2 385.2 437.0 383.6 C448.8 382.0 451.1 382.7 461.0 382.4 C470.9 382.1 486.2 382.7 496.4 381.8 C506.6 380.9 513.4 378.2 522.3 377.0 C531.2 375.8 540.4 375.1 550.0 374.5 C559.6 373.9 571.4 373.6 579.7 373.7 C588.0 373.8 592.5 373.4 600.0 375.0 C607.5 376.6 616.7 382.2 625.0 383.3 C633.3 384.4 643.0 382.4 650.0 381.7 C657.0 381.0 659.8 378.9 666.7 379.2 C673.7 379.5 683.4 381.0 691.7 383.3 C700.0 385.6 710.1 390.6 716.7 393.0 C723.3 395.4 729.0 396.8 731.5 397.5" stroke="#0000ff" stroke-width="3.9"/>
<path d="M344.8 414.0 C349.4 412.7 362.3 409.2 372.3 406.0 C382.3 402.8 395.2 397.7 404.6 394.6 C414.0 391.5 422.2 389.2 428.9 387.4 C435.6 385.5 438.1 384.1 445.0 383.5 C451.9 382.9 461.4 383.2 470.0 383.5 C478.6 383.8 487.7 384.5 496.4 385.0 C505.1 385.5 513.9 386.7 522.3 386.7 C530.7 386.7 537.0 385.7 546.6 385.0 C556.2 384.3 572.3 382.8 579.7 382.5 C587.1 382.2 586.2 382.0 591.0 383.5 C595.8 385.0 599.8 390.6 608.3 391.7 C616.8 392.8 630.6 390.6 641.7 390.0 C652.8 389.4 660.0 388.9 675.0 388.3 C690.0 387.8 722.1 387.0 731.5 386.7" stroke="#0000ff" stroke-width="3.9"/>
<path d="M496.4 370.0 C500.7 372.2 512.6 379.0 522.3 383.4 C532.0 387.8 545.0 393.6 554.6 396.4 C564.2 399.2 572.1 399.6 579.7 400.0 C587.3 400.4 593.8 397.7 600.0 398.5 C606.2 399.3 609.8 402.5 616.7 405.0 C623.7 407.5 632.0 411.4 641.7 413.3 C651.4 415.2 660.0 416.6 675.0 416.7 C690.0 416.8 722.1 414.6 731.5 414.2" stroke="#0000ff" stroke-width="3.9"/>
<path d="M344.8 414.2 C349.4 412.6 364.6 407.2 372.3 404.5 C380.1 401.8 385.9 399.2 391.3 397.8 C396.7 396.4 398.3 396.8 404.6 396.0 C410.9 395.2 419.7 393.9 428.9 393.2 C438.1 392.4 448.8 391.9 460.0 391.5 C471.2 391.1 486.3 391.0 496.4 391.0 C506.4 391.0 512.9 390.6 520.3 391.5 C527.6 392.4 533.8 393.9 540.5 396.2 C547.2 398.5 554.2 403.1 560.7 405.3 C567.2 407.5 573.2 409.3 579.7 409.3 C586.2 409.3 592.7 406.4 600.0 405.5 C607.3 404.6 616.6 403.0 623.6 403.6 C630.6 404.2 635.7 406.9 641.8 409.0 C647.9 411.1 654.0 414.3 660.0 416.4 C666.0 418.5 666.1 420.6 678.0 421.8 C689.9 423.0 722.6 423.3 731.5 423.6" stroke="#0000ff" stroke-width="3.9"/>
<path d="M344.8 418.3 C347.3 419.1 354.9 420.8 360.0 422.9 C365.1 425.0 370.5 428.8 375.7 430.7 C380.9 432.6 386.1 434.1 391.3 434.6 C396.5 435.1 401.8 435.3 407.0 433.9 C412.2 432.5 417.5 428.9 422.7 426.0 C427.9 423.1 433.1 420.0 438.3 416.6 C443.5 413.2 448.8 408.3 454.0 405.7 C459.2 403.1 462.6 401.9 469.7 401.0 C476.8 400.1 488.6 399.9 496.4 400.5 C504.2 401.1 509.4 402.9 516.4 404.9 C523.4 406.8 530.9 410.3 538.2 412.2 C545.5 414.1 553.1 415.6 560.0 416.5 C566.9 417.4 573.0 417.3 579.7 417.3 C586.4 417.3 592.5 416.6 600.0 416.5 C607.5 416.4 616.5 416.7 625.0 417.0 C633.5 417.3 640.7 418.4 651.0 418.2 C661.3 417.9 673.6 416.1 687.0 415.5 C700.4 414.9 724.1 414.7 731.5 414.5" stroke="#0000ff" stroke-width="3.9"/>
<path d="M344.8 448.2 C347.3 447.4 354.9 445.9 360.0 443.3 C365.1 440.7 370.5 437.0 375.7 432.3 C380.9 427.6 386.1 419.7 391.3 415.0 C396.5 410.3 401.8 406.7 407.0 404.1 C412.2 401.5 418.5 400.5 422.7 399.4 C426.9 398.3 427.4 398.0 432.0 397.5 C436.6 397.0 443.7 396.6 450.0 396.5 C456.3 396.4 462.3 396.6 470.0 397.0 C477.7 397.4 488.0 397.3 496.4 399.0 C504.8 400.7 512.9 404.6 520.3 407.3 C527.6 410.0 533.8 413.3 540.5 415.4 C547.2 417.5 554.2 418.9 560.7 420.0 C567.2 421.1 576.5 421.5 579.7 421.8" stroke="#0000ff" stroke-width="3.9"/>
<path d="M344.8 591.5 C346.8 586.9 353.4 571.5 356.8 563.7 C360.2 556.0 362.5 550.6 365.0 545.0 C367.5 539.4 369.1 537.0 371.7 530.0 C374.3 523.0 377.1 511.5 380.4 502.8 C383.7 494.1 387.9 486.1 391.3 477.7 C394.7 469.3 397.6 460.3 400.7 452.7 C403.8 445.1 407.0 438.8 410.1 432.3 C413.2 425.8 416.6 418.4 419.5 413.5 C422.4 408.6 425.0 406.4 427.4 403.0 C429.8 399.6 431.5 396.2 433.6 393.0 C435.7 389.8 436.9 388.0 440.2 384.0 C443.4 380.0 448.8 373.2 453.1 368.8 C457.4 364.4 461.4 360.7 466.0 357.5 C470.6 354.3 475.5 351.1 480.6 349.4 C485.7 347.7 493.8 347.8 496.4 347.5" stroke="#0000ff" stroke-width="3.9"/>
<path d="M344.8 509.3 C347.3 508.7 354.9 508.0 360.0 505.9 C365.1 503.8 370.7 500.1 375.7 496.5 C380.7 492.9 384.6 488.7 389.8 484.0 C395.0 479.3 401.5 473.0 407.0 468.3 C412.5 463.6 417.5 459.7 422.7 455.8 C427.9 451.9 433.1 449.0 438.3 444.8 C443.5 440.6 448.8 435.4 454.0 430.7 C459.2 426.0 465.0 420.5 469.7 416.6 C474.4 412.8 477.8 409.8 482.2 407.6 C486.6 405.4 490.9 403.3 496.4 403.5 C501.9 403.7 509.2 406.3 515.0 409.0 C520.8 411.7 525.8 416.3 530.9 419.5 C536.0 422.7 540.6 425.8 545.5 428.2 C550.4 430.6 554.3 432.8 560.0 434.0 C565.7 435.2 573.0 434.8 579.7 435.5 C586.4 436.2 591.9 434.9 600.0 438.5 C608.1 442.1 619.9 451.6 628.1 456.8 C636.3 462.0 642.3 465.2 649.4 469.5 C656.5 473.8 663.5 478.8 670.6 482.3 C677.7 485.9 681.8 488.9 691.9 490.8 C702.0 492.8 724.9 493.5 731.5 494.0" stroke="#0000ff" stroke-width="3.9"/>
<path d="M496.4 404.2 C499.5 405.2 508.0 406.2 515.0 410.0 C522.0 413.8 531.9 422.2 538.2 426.7 C544.5 431.2 547.9 433.8 552.7 436.9 C557.6 440.0 562.8 443.7 567.3 445.6 C571.8 447.5 574.9 448.7 579.7 448.5 C584.6 448.3 590.1 446.2 596.4 444.2 C602.7 442.2 611.1 437.0 617.5 436.6 C623.9 436.2 627.9 439.5 635.0 442.0 C642.1 444.5 652.3 447.9 660.0 451.4 C667.7 454.9 674.2 459.0 681.3 463.1 C688.4 467.2 694.1 473.1 702.5 475.9 C710.9 478.7 726.7 479.4 731.5 480.1" stroke="#0000ff" stroke-width="3.9"/>
<path d="M496.4 401.0 C500.3 401.8 511.9 402.8 520.0 406.0 C528.1 409.2 537.5 414.8 545.0 420.0 C552.5 425.2 559.2 434.1 565.0 437.0 C570.8 439.9 572.7 435.9 579.7 437.6 C586.7 439.3 598.8 444.0 606.9 447.2 C615.0 450.4 621.0 453.1 628.1 456.8 C635.2 460.5 642.3 465.2 649.4 469.5 C656.5 473.8 663.5 478.8 670.6 482.3 C677.7 485.9 681.8 488.8 691.9 490.8 C702.0 492.8 724.9 493.9 731.5 494.5" stroke="#0000ff" stroke-width="3.9"/>
<path d="M579.7 437.6 C582.1 436.5 589.5 432.4 594.0 431.0 C598.5 429.6 602.2 429.5 606.9 429.1 C611.6 428.7 616.5 427.5 622.0 428.5 C627.5 429.5 633.7 431.0 640.0 435.0 C646.3 439.0 653.1 446.0 660.0 452.5 C666.9 459.0 674.2 468.1 681.3 473.8 C688.4 479.5 694.1 484.2 702.5 486.5 C710.9 488.8 726.7 487.4 731.5 487.6" stroke="#0000ff" stroke-width="3.9"/>
<path d="M579.7 421.8 C583.1 422.4 594.2 424.6 600.0 425.5 C605.8 426.4 609.2 427.6 614.5 427.3 C619.8 427.0 625.9 424.8 632.0 423.6 C638.1 422.4 644.8 420.3 651.0 420.0 C657.2 419.7 663.0 419.7 669.0 421.8 C675.0 423.9 680.5 429.3 687.3 432.7 C694.1 436.1 702.6 439.6 710.0 442.0 C717.4 444.4 727.9 446.4 731.5 447.3" stroke="#0000ff" stroke-width="3.9"/>
<path d="M344.8 509.3 C346.8 509.4 352.9 509.1 356.8 510.0 C360.7 510.9 364.5 512.2 368.0 515.0 C371.5 517.8 375.1 523.0 378.0 527.0 C380.9 531.0 382.3 539.0 385.3 538.7 C388.3 538.4 392.2 529.8 396.0 525.0 C399.8 520.2 402.4 516.3 407.9 510.0 C413.4 503.7 421.9 492.3 428.9 487.0 C435.9 481.7 443.0 478.9 449.9 478.1 C456.8 477.3 464.1 480.2 470.0 482.0 C475.9 483.8 481.1 487.3 485.5 488.6 C489.9 489.9 488.8 491.4 496.4 489.6 C504.0 487.8 521.5 481.8 530.9 477.6 C540.3 473.4 546.6 467.9 552.7 464.5 C558.8 461.1 562.8 458.6 567.3 457.3 C571.8 456.0 574.2 456.1 579.7 456.5 C585.2 456.9 593.7 458.0 600.0 459.5 C606.3 461.0 611.0 462.2 617.5 465.3 C624.0 468.4 631.7 473.1 638.8 478.0 C645.9 482.9 652.9 489.7 660.0 495.0 C667.1 500.3 675.1 505.9 681.3 510.0 C687.5 514.1 692.4 516.8 697.2 519.5 C702.0 522.2 704.3 524.7 710.0 526.5 C715.7 528.3 727.9 529.5 731.5 530.1" stroke="#0000ff" stroke-width="3.9"/>
<path d="M496.4 490.5 C502.0 490.8 516.1 491.5 530.0 492.0 C543.9 492.5 568.7 493.3 579.7 493.6 C590.8 493.9 590.0 493.1 596.3 494.0 C602.6 494.9 610.4 496.8 617.5 499.3 C624.6 501.8 631.7 505.8 638.8 508.8 C645.9 511.8 652.9 515.3 660.0 517.3 C667.1 519.2 675.1 520.1 681.3 520.5 C687.5 520.9 691.9 521.5 697.2 519.5 C702.5 517.5 707.5 510.9 713.2 508.8 C718.9 506.7 728.5 507.1 731.5 506.7" stroke="#0000ff" stroke-width="3.9"/>
<path d="M116.5 591.5 C118.1 589.6 121.9 584.8 126.2 579.9 C130.5 575.0 136.9 568.0 142.3 562.1 C147.7 556.2 153.1 549.0 158.5 544.3 C163.9 539.6 169.8 536.1 174.6 533.8 C179.4 531.5 183.4 531.3 187.6 530.6 C191.8 529.9 194.1 530.3 200.0 529.8 C205.9 529.3 215.1 528.4 223.1 527.4 C231.1 526.4 242.2 524.2 248.0 523.8 C253.8 523.4 253.3 523.5 257.9 525.1 C262.5 526.7 269.8 529.7 275.8 533.1 C281.8 536.5 287.7 541.5 293.7 545.7 C299.7 549.9 305.6 553.4 311.6 558.2 C317.6 563.0 324.1 568.8 329.6 574.3 C335.1 579.8 342.3 588.6 344.8 591.5" stroke="#ff0000" stroke-width="3.9"/>
<path d="M344.8 591.5 C346.8 588.6 352.0 580.3 356.8 573.9 C361.6 567.5 368.9 558.8 373.6 552.9 C378.4 547.0 382.2 539.9 385.3 538.7 C388.4 537.6 389.6 543.3 392.0 546.0 C394.4 548.7 397.2 552.2 400.0 555.0 C402.8 557.8 405.0 560.5 408.5 562.6 C412.0 564.7 416.7 567.0 421.2 567.6 C425.7 568.2 430.2 566.6 435.4 566.2 C440.6 565.9 446.4 564.9 452.3 565.5 C458.2 566.1 465.3 568.2 470.7 569.7 C476.1 571.2 480.6 573.7 484.9 574.7 C489.2 575.8 491.7 576.7 496.4 576.0 C501.1 575.3 508.1 572.5 513.2 570.4 C518.4 568.3 522.8 565.5 527.3 563.3 C531.8 561.1 535.3 559.6 540.3 557.1 C545.3 554.6 552.1 550.1 557.1 548.0 C562.1 545.9 566.2 545.1 570.0 544.3 C573.8 543.5 575.3 543.3 579.7 543.2 C584.1 543.1 590.0 542.5 596.3 543.9 C602.6 545.2 610.4 548.5 617.5 551.3 C624.6 554.1 633.8 559.1 638.8 560.9 C643.8 562.7 643.8 562.4 647.3 562.0 C650.8 561.6 656.1 560.8 660.0 558.8 C663.9 556.8 667.1 553.8 670.6 550.3 C674.1 546.8 676.9 542.6 681.3 537.5 C685.7 532.4 693.0 521.5 697.2 519.5 C701.5 517.5 703.1 524.2 706.8 525.8 C710.5 527.4 715.4 528.3 719.5 529.0 C723.6 529.7 729.5 529.9 731.5 530.1" stroke="#ff0000" stroke-width="3.9"/>
<path d="M116.5 591.5 C118.1 589.6 121.9 584.8 126.2 579.9 C130.5 575.0 136.9 568.0 142.3 562.1 C147.7 556.2 153.1 549.0 158.5 544.3 C163.9 539.6 169.8 536.1 174.6 533.8 C179.4 531.5 183.4 531.3 187.6 530.6 C191.8 529.9 194.1 530.3 200.0 529.8 C205.9 529.3 215.1 528.4 223.1 527.4 C231.1 526.4 242.2 524.2 248.0 523.8 C253.8 523.4 253.3 523.5 257.9 525.1 C262.5 526.7 269.8 529.7 275.8 533.1 C281.8 536.5 287.7 541.5 293.7 545.7 C299.7 549.9 305.6 553.4 311.6 558.2 C317.6 563.0 324.1 568.8 329.6 574.3 C335.1 579.8 342.3 588.6 344.8 591.5" stroke="#0000ff" stroke-width="3.9" stroke-dasharray="14.5 14.5" stroke-linecap="butt"/>
<path d="M344.8 591.5 C346.8 588.6 352.0 580.3 356.8 573.9 C361.6 567.5 368.9 558.8 373.6 552.9 C378.4 547.0 381.7 539.2 385.3 538.7 C388.9 538.2 391.9 546.4 395.0 550.0 C398.1 553.6 401.3 556.8 403.8 560.5 C406.3 564.2 408.6 568.4 410.0 572.0 C411.4 575.6 411.8 578.8 412.5 582.0 C413.2 585.2 413.5 587.9 414.1 591.5 C414.7 595.1 414.7 599.8 416.3 603.6 C417.9 607.4 420.5 611.2 424.0 614.3 C427.5 617.4 432.8 620.1 437.5 622.0 C442.2 623.9 447.4 624.8 452.3 625.6 C457.2 626.4 462.2 626.6 467.2 627.0 C472.1 627.4 477.1 627.8 482.0 628.0 C486.9 628.2 491.7 628.9 496.4 628.4 C501.1 627.9 506.1 627.4 510.3 624.9 C514.5 622.4 518.6 617.6 521.6 613.6 C524.6 609.6 526.5 605.8 528.0 600.8 C529.5 595.8 529.7 588.6 530.8 583.8 C531.9 579.0 532.2 576.2 534.4 571.8 C536.5 567.4 539.9 561.5 543.7 557.5 C547.5 553.5 552.7 550.0 557.1 547.5 C561.5 545.0 566.2 543.6 570.0 542.5 C573.8 541.4 575.3 541.1 579.7 541.0 C584.1 540.9 590.0 540.3 596.3 541.6 C602.6 542.9 610.4 546.0 617.5 548.8 C624.6 551.6 633.8 556.6 638.8 558.4 C643.8 560.2 643.8 559.9 647.3 559.6 C650.8 559.3 656.1 558.4 660.0 556.6 C663.9 554.8 667.1 552.0 670.6 548.6 C674.1 545.2 676.9 541.4 681.3 536.5 C685.7 531.6 693.0 521.3 697.2 519.5 C701.5 517.7 703.1 524.2 706.8 525.8 C710.5 527.4 715.4 528.3 719.5 529.0 C723.6 529.7 729.5 529.9 731.5 530.1" stroke="#0000ff" stroke-width="3.9" stroke-dasharray="14.5 14.5" stroke-linecap="butt"/>
</g>
<g clip-path="url(#cpB)" fill="none" stroke-linejoin="round">
<path d="M786.0 64.3 L798.9 65.0 L811.4 67.0 L798.9 68.5 L795.3 70.6 L792.4 78.0 L791.5 85.8 L791.5 95.0 L791.8 103.7 L794.7 110.8 L800.6 114.0 L794.3 116.0 L787.8 118.5 L786.0 120.7 L786.0 148.0 L846.4 156.9 L833.2 158.7 L798.9 160.5 L789.7 161.4 L941.5 161.8 L941.5 162.8 L789.7 163.5 L786.0 165.0 L786.0 169.3 L905.2 176.4 L825.0 182.2 L789.7 183.3 L929.7 190.7 L813.6 196.5 L794.3 198.0 L786.0 199.0 L786.0 227.0 L798.9 229.0 L817.1 232.3 L798.9 233.5 L795.9 237.0 L794.3 250.0 L794.3 262.0 L787.0 276.0 L787.1 287.0 L788.1 291.0 L789.7 296.0 L792.7 299.4 L789.5 301.0 L790.7 305.4 L789.2 309.0 L788.2 314.0 L787.8 321.7 L788.4 326.0 L789.0 329.6 L793.2 333.0 L789.2 335.0 L787.9 340.7 L789.7 342.0 L793.8 344.0 L790.5 347.5 L791.7 351.0 L791.5 353.5 L790.3 356.0 L789.7 358.6 L788.9 364.0 L788.3 372.0 L789.2 375.0 L790.3 377.6 L790.8 380.0 L793.5 384.4 L791.4 387.0 L794.4 390.0 L790.3 393.0 L789.0 396.7 L789.7 400.0 L791.2 405.6 L791.0 409.0 L791.4 412.0 L795.3 415.2 L790.8 420.0 L792.7 425.7 L791.1 430.0 L791.8 435.8 L789.5 441.4 L790.3 444.7 L788.3 451.4 L788.3 458.0 L788.0 467.0 L787.9 476.0 L788.0 485.0 L788.9 490.0 L789.5 494.0 L788.6 499.0 L787.8 507.3 L788.2 515.0 L788.0 523.0 L787.4 531.0 L787.1 538.6 L786.9 550.0 L786.8 561.0 L786.4 570.0 L786.0 576.7 Z" fill="#b2b2b2" stroke="none"/>
<path d="M786.0 64.3 L800.0 65.0 L813.6 67.0 L800.0 68.5 L796.1 70.6 L793.0 78.0 L792.0 85.8 L792.0 95.0 L792.3 103.7 L795.5 110.8 L801.9 114.0 L795.0 116.0 L788.0 118.5 L786.0 120.7 L786.0 148.0 L851.6 156.9 L837.3 158.7 L800.0 160.5 L790.0 161.4 L955.0 161.8 L955.0 162.8 L790.0 163.5 L786.0 165.0 L786.0 169.3 L915.6 176.4 L828.4 182.2 L790.0 183.3 L942.2 190.7 L816.0 196.5 L795.0 198.0 L786.0 199.0 L786.0 227.0 L800.0 229.0 L819.8 232.3 L800.0 233.5 L796.8 237.0 L795.0 250.0 L795.0 262.0 L795.5 276.0 L795.6 287.0 L805.0 291.0 L820.0 296.0 L847.0 299.4 L818.0 301.0 L829.0 305.4 L815.0 309.0 L806.0 314.0 L802.4 321.7 L808.0 326.0 L813.5 329.6 L851.6 333.0 L815.0 335.0 L803.5 340.7 L820.0 342.0 L857.0 344.0 L827.0 347.5 L838.0 351.0 L836.0 353.5 L825.0 356.0 L820.0 358.6 L812.0 364.0 L806.8 372.0 L815.0 375.0 L824.7 377.6 L830.0 380.0 L853.8 384.4 L835.0 387.0 L862.7 390.0 L825.0 393.0 L813.5 396.7 L820.0 400.0 L833.7 405.6 L831.4 409.0 L835.0 412.0 L870.6 415.2 L830.0 420.0 L847.0 425.7 L832.0 430.0 L839.0 435.8 L818.0 441.4 L824.7 444.7 L806.8 451.4 L806.8 458.0 L804.0 467.0 L803.5 476.0 L804.6 485.0 L812.0 490.0 L818.0 494.0 L810.0 499.0 L802.4 507.3 L806.0 515.0 L804.6 523.0 L799.0 531.0 L795.6 538.6 L794.0 550.0 L793.4 561.0 L790.0 570.0 L786.0 576.7" stroke="#000" stroke-width="4"/>
<path d="M786.0 58.0 C786.2 58.7 787.0 59.2 787.5 62.0 C788.0 64.8 789.0 71.2 789.0 75.0 C789.0 78.8 787.5 80.8 787.5 85.0 C787.5 89.2 788.9 95.8 789.0 100.0 C789.1 104.2 788.3 106.7 788.0 110.0 C787.7 113.3 787.3 117.5 787.0 120.0 C786.7 122.5 786.2 120.0 786.0 125.0 C785.8 130.0 784.5 145.2 786.0 150.0 C787.5 154.8 791.9 152.7 795.0 154.0 C798.1 155.3 804.4 156.8 804.4 158.0 C804.4 159.2 798.1 160.2 795.0 161.0 C791.9 161.8 787.5 161.8 786.0 163.0 C784.5 164.2 783.7 166.5 786.0 168.0 C788.3 169.5 795.9 170.6 800.0 172.0 C804.1 173.4 811.0 175.1 810.7 176.4 C810.4 177.7 802.1 178.9 798.0 180.0 C793.9 181.1 788.0 182.2 786.0 183.0 C784.0 183.8 782.8 184.2 786.0 185.0 C789.2 185.8 799.0 187.1 805.0 188.0 C811.0 188.9 823.0 189.7 822.2 190.7 C821.4 191.7 806.0 192.8 800.0 194.0 C794.0 195.2 788.3 192.8 786.0 198.0 C783.7 203.2 785.5 218.7 786.0 225.0 C786.5 231.3 788.2 232.4 789.0 236.0 C789.8 239.6 791.3 244.5 791.0 246.8 C790.7 249.1 787.8 248.1 787.0 250.0 C786.2 251.9 784.8 253.7 786.0 258.0 C787.2 262.3 791.3 271.9 794.0 276.0 C796.7 280.1 803.1 280.9 802.4 282.6 C801.7 284.3 792.4 284.8 790.0 286.0 C787.6 287.2 787.2 288.3 788.0 290.0 C788.8 291.7 792.6 294.2 795.0 296.0 C797.4 297.8 802.4 298.5 802.4 300.5 C802.4 302.5 797.1 305.1 795.0 308.0 C792.9 310.9 790.0 315.2 790.0 318.0 C790.0 320.8 792.6 322.7 795.0 325.0 C797.4 327.3 804.1 329.6 804.6 331.8 C805.1 334.0 799.8 335.8 798.0 338.0 C796.2 340.2 793.7 343.2 794.0 345.0 C794.3 346.8 798.0 347.8 800.0 349.0 C802.0 350.2 806.2 349.8 805.7 352.0 C805.2 354.2 799.3 358.7 797.0 362.0 C794.7 365.3 791.5 369.3 792.0 372.0 C792.5 374.7 797.3 376.1 800.0 378.0 C802.7 379.9 808.3 381.2 808.0 383.2 C807.7 385.2 800.2 388.0 798.0 390.0 C795.8 392.0 793.3 393.5 795.0 395.0 C796.7 396.5 807.2 397.7 808.0 398.9 C808.8 400.1 801.7 401.1 800.0 402.0 C798.3 402.9 795.9 402.8 797.9 404.5 C799.9 406.2 807.5 409.6 812.0 412.0 C816.5 414.4 825.0 417.0 824.7 419.0 C824.4 421.0 814.5 422.3 810.0 424.0 C805.5 425.7 798.4 426.7 797.9 429.0 C797.4 431.3 806.4 435.5 806.8 438.0 C807.1 440.5 802.0 442.1 800.0 444.0 C798.0 445.9 796.2 446.5 794.5 449.2 C792.8 451.9 788.7 456.3 790.0 460.0 C791.3 463.7 801.8 467.8 802.4 471.6 C803.0 475.4 791.5 479.0 793.4 482.7 C795.2 486.4 813.1 490.6 813.5 494.0 C813.9 497.4 797.1 499.9 795.6 502.9 C794.1 505.9 804.6 509.2 804.6 511.8 C804.6 514.4 792.8 515.9 795.6 518.5 C798.4 521.1 822.3 524.9 821.4 527.5 C820.5 530.1 786.5 532.4 790.0 534.2 C793.5 536.1 842.6 537.1 842.6 538.6 C842.6 540.1 796.7 541.2 790.0 543.1 C783.3 545.0 802.4 547.6 802.4 549.8 C802.4 552.0 790.0 554.3 790.0 556.5 C790.0 558.7 791.4 561.0 802.4 563.2 C813.4 565.5 857.2 568.2 856.0 570.0 C854.8 571.8 806.0 572.9 795.0 574.0 C784.0 575.1 791.5 575.7 790.0 576.7 C788.5 577.7 786.7 579.5 786.0 580.0" stroke="#a21ef0" stroke-width="3.6"/>
<path d="M909.5 50.0 C909.5 58.3 909.3 85.0 909.3 100.0 C909.3 115.0 909.5 127.5 909.3 140.0 C909.1 152.5 908.7 164.2 908.0 175.0 C907.3 185.8 905.6 192.5 905.0 205.0 C904.4 217.5 904.5 237.5 904.5 250.0 C904.5 262.5 905.2 270.0 905.0 280.0 C904.8 290.0 904.2 301.4 903.5 310.0 C902.8 318.6 901.9 320.7 900.7 331.8 C899.5 342.9 898.5 361.8 896.3 376.5 C894.1 391.2 889.9 406.8 887.3 420.0 C884.7 433.2 882.8 444.4 880.6 456.0 C878.4 467.6 876.4 480.7 874.0 489.4 C871.6 498.1 868.2 502.8 866.0 508.0 C863.8 513.2 862.9 516.7 860.5 520.7 C858.1 524.7 853.9 529.2 851.6 532.0 C849.4 534.8 849.6 535.3 847.0 537.5 C844.4 539.7 838.8 542.9 836.0 545.3 C833.2 547.7 831.6 548.8 830.3 552.0 C829.0 555.2 829.3 562.0 828.0 564.4 C826.7 566.8 827.5 565.3 822.5 566.6 C817.5 567.9 804.0 570.2 797.9 572.2 C791.8 574.2 788.0 577.8 786.0 578.9" stroke="#0a960a" stroke-width="3.8"/>
</g>
<clipPath id="cpD"><rect x="116.0" y="777.5" width="615.5" height="74.8"/></clipPath>
<path d="M120.0 770.0 L123.0 778.0 L126.0 790.0 L130.0 799.0 L134.0 804.0 L142.0 807.0 L150.0 809.0 L157.0 812.5 L165.0 811.0 L172.0 808.0 L177.0 804.0 L181.0 806.0 L185.0 808.4 L189.0 808.0 L193.0 806.7 L197.0 803.0 L200.0 797.3 L205.0 801.0 L210.0 804.5 L215.0 809.0 L222.0 812.0 L228.0 815.0 L234.0 814.0 L240.0 813.0 L248.0 811.0 L253.0 813.5 L258.0 815.5 L262.0 813.0 L266.0 815.5 L270.0 816.0 L274.0 814.0 L278.0 815.0 L282.0 813.0 L286.0 814.0 L290.0 812.0 L294.0 813.0 L300.0 811.7 L306.0 810.0 L312.0 807.0 L318.0 806.0 L325.0 805.0 L329.0 800.0 L332.0 793.0 L334.0 786.0 L336.0 778.0 L337.0 770.0 L347.0 770.0 L347.7 778.0 L350.0 790.0 L352.0 800.0 L355.0 808.0 L359.0 813.0 L363.0 815.0 L370.4 822.6 L378.0 823.0 L385.6 821.0 L391.0 822.0 L394.4 822.0 L398.0 828.0 L402.0 829.0 L405.8 826.0 L410.8 825.6 L413.0 827.0 L416.0 829.6 L418.0 826.9 L425.0 829.0 L433.5 833.0 L440.0 833.0 L445.0 832.0 L448.0 835.0 L451.0 837.0 L456.0 835.0 L461.0 837.0 L466.0 838.0 L471.0 840.0 L476.5 843.8 L481.5 842.0 L484.0 845.8 L489.0 838.0 L494.0 843.0 L496.4 837.7 L502.0 840.0 L509.0 840.8 L515.0 840.0 L522.0 839.5 L535.0 839.0 L545.0 838.5 L554.7 838.2 L562.0 840.0 L568.0 843.0 L572.6 843.8 L579.7 845.0 L585.0 838.0 L588.0 842.0 L592.8 846.3 L600.4 845.3 L608.0 842.8 L615.0 839.0 L623.0 835.7 L630.0 833.0 L635.8 831.0 L642.0 831.0 L648.4 830.7 L656.0 828.0 L664.0 827.8 L671.0 827.6 L678.7 825.0 L681.0 822.6 L686.0 823.0 L691.0 821.5 L696.0 820.5 L703.0 821.5 L709.0 821.8 L714.0 818.5 L719.0 817.0 L724.0 815.5 L728.0 809.0 L731.7 797.8" fill="none" stroke="#000" stroke-width="3.8" stroke-linejoin="round" clip-path="url(#cpD)"/>
<line x1="200.0" y1="50.0" x2="200.0" y2="644.0" stroke="#000" stroke-width="3.6"/>
<line x1="200.0" y1="674.0" x2="200.0" y2="747.5" stroke="#000" stroke-width="3.6"/>
<line x1="200.0" y1="777.5" x2="200.0" y2="852.3" stroke="#000" stroke-width="3.6"/>
<line x1="248.0" y1="50.0" x2="248.0" y2="644.0" stroke="#000" stroke-width="3.6"/>
<line x1="248.0" y1="674.0" x2="248.0" y2="747.5" stroke="#000" stroke-width="3.6"/>
<line x1="248.0" y1="777.5" x2="248.0" y2="852.3" stroke="#000" stroke-width="3.6"/>
<line x1="344.8" y1="50.0" x2="344.8" y2="644.0" stroke="#000" stroke-width="3.6"/>
<line x1="344.8" y1="674.0" x2="344.8" y2="747.5" stroke="#000" stroke-width="3.6"/>
<line x1="344.8" y1="777.5" x2="344.8" y2="852.3" stroke="#000" stroke-width="3.6"/>
<line x1="496.4" y1="50.0" x2="496.4" y2="644.0" stroke="#000" stroke-width="3.6"/>
<line x1="496.4" y1="674.0" x2="496.4" y2="747.5" stroke="#000" stroke-width="3.6"/>
<line x1="496.4" y1="777.5" x2="496.4" y2="852.3" stroke="#000" stroke-width="3.6"/>
<line x1="579.7" y1="50.0" x2="579.7" y2="644.0" stroke="#000" stroke-width="3.6"/>
<line x1="579.7" y1="674.0" x2="579.7" y2="747.5" stroke="#000" stroke-width="3.6"/>
<line x1="579.7" y1="777.5" x2="579.7" y2="852.3" stroke="#000" stroke-width="3.6"/>
<line x1="116.0" y1="591.5" x2="731.5" y2="591.5" stroke="#000" stroke-width="3.6"/>
<line x1="785.9" y1="591.5" x2="954.8" y2="591.5" stroke="#000" stroke-width="3.6"/>
<rect x="116.0" y="50.0" width="615.5" height="594.0" fill="none" stroke="#262626" stroke-width="3.6"/>
<rect x="785.9" y="50.0" width="168.9" height="594.0" fill="none" stroke="#262626" stroke-width="3.6"/>
<rect x="116.0" y="674.0" width="615.5" height="73.5" fill="none" stroke="#262626" stroke-width="3.6"/>
<rect x="116.0" y="777.5" width="615.5" height="74.8" fill="none" stroke="#262626" stroke-width="3.6"/>
<line x1="116.0" y1="591.5" x2="123.0" y2="591.5" stroke="#262626" stroke-width="3.4"/>
<line x1="724.5" y1="591.5" x2="731.5" y2="591.5" stroke="#262626" stroke-width="3.4"/>
<line x1="785.9" y1="591.5" x2="792.9" y2="591.5" stroke="#262626" stroke-width="3.4"/>
<line x1="947.8" y1="591.5" x2="954.8" y2="591.5" stroke="#262626" stroke-width="3.4"/>
<line x1="116.0" y1="486.4" x2="123.0" y2="486.4" stroke="#262626" stroke-width="3.4"/>
<line x1="724.5" y1="486.4" x2="731.5" y2="486.4" stroke="#262626" stroke-width="3.4"/>
<line x1="785.9" y1="486.4" x2="792.9" y2="486.4" stroke="#262626" stroke-width="3.4"/>
<line x1="947.8" y1="486.4" x2="954.8" y2="486.4" stroke="#262626" stroke-width="3.4"/>
<line x1="116.0" y1="381.3" x2="123.0" y2="381.3" stroke="#262626" stroke-width="3.4"/>
<line x1="724.5" y1="381.3" x2="731.5" y2="381.3" stroke="#262626" stroke-width="3.4"/>
<line x1="785.9" y1="381.3" x2="792.9" y2="381.3" stroke="#262626" stroke-width="3.4"/>
<line x1="947.8" y1="381.3" x2="954.8" y2="381.3" stroke="#262626" stroke-width="3.4"/>
<line x1="116.0" y1="276.2" x2="123.0" y2="276.2" stroke="#262626" stroke-width="3.4"/>
<line x1="724.5" y1="276.2" x2="731.5" y2="276.2" stroke="#262626" stroke-width="3.4"/>
<line x1="785.9" y1="276.2" x2="792.9" y2="276.2" stroke="#262626" stroke-width="3.4"/>
<line x1="947.8" y1="276.2" x2="954.8" y2="276.2" stroke="#262626" stroke-width="3.4"/>
<line x1="116.0" y1="171.1" x2="123.0" y2="171.1" stroke="#262626" stroke-width="3.4"/>
<line x1="724.5" y1="171.1" x2="731.5" y2="171.1" stroke="#262626" stroke-width="3.4"/>
<line x1="785.9" y1="171.1" x2="792.9" y2="171.1" stroke="#262626" stroke-width="3.4"/>
<line x1="947.8" y1="171.1" x2="954.8" y2="171.1" stroke="#262626" stroke-width="3.4"/>
<line x1="116.0" y1="66.0" x2="123.0" y2="66.0" stroke="#262626" stroke-width="3.4"/>
<line x1="724.5" y1="66.0" x2="731.5" y2="66.0" stroke="#262626" stroke-width="3.4"/>
<line x1="785.9" y1="66.0" x2="792.9" y2="66.0" stroke="#262626" stroke-width="3.4"/>
<line x1="947.8" y1="66.0" x2="954.8" y2="66.0" stroke="#262626" stroke-width="3.4"/>
<line x1="870.3" y1="50.0" x2="870.3" y2="57.0" stroke="#262626" stroke-width="3.4"/>
<line x1="870.3" y1="637.0" x2="870.3" y2="644.0" stroke="#262626" stroke-width="3.4"/>
<line x1="116.0" y1="729.1" x2="123.0" y2="729.1" stroke="#262626" stroke-width="3.4"/>
<line x1="724.5" y1="729.1" x2="731.5" y2="729.1" stroke="#262626" stroke-width="3.4"/>
<line x1="116.0" y1="833.6" x2="123.0" y2="833.6" stroke="#262626" stroke-width="3.4"/>
<line x1="724.5" y1="833.6" x2="731.5" y2="833.6" stroke="#262626" stroke-width="3.4"/>
<line x1="116.0" y1="710.8" x2="123.0" y2="710.8" stroke="#262626" stroke-width="3.4"/>
<line x1="724.5" y1="710.8" x2="731.5" y2="710.8" stroke="#262626" stroke-width="3.4"/>
<line x1="116.0" y1="814.9" x2="123.0" y2="814.9" stroke="#262626" stroke-width="3.4"/>
<line x1="724.5" y1="814.9" x2="731.5" y2="814.9" stroke="#262626" stroke-width="3.4"/>
<line x1="116.0" y1="692.4" x2="123.0" y2="692.4" stroke="#262626" stroke-width="3.4"/>
<line x1="724.5" y1="692.4" x2="731.5" y2="692.4" stroke="#262626" stroke-width="3.4"/>
<line x1="116.0" y1="796.2" x2="123.0" y2="796.2" stroke="#262626" stroke-width="3.4"/>
<line x1="724.5" y1="796.2" x2="731.5" y2="796.2" stroke="#262626" stroke-width="3.4"/>
<text transform="translate(104.48,32.90) scale(0.4058,0.4000)" font-size="100" style="fill:#262626">Γ</text>
<text transform="translate(104.48,894.40) scale(0.4058,0.4000)" font-size="100" style="fill:#262626">Γ</text>
<text transform="translate(181.42,32.90) scale(0.4213,0.4000)" font-size="100" style="fill:#262626"><tspan font-style="italic">M</tspan></text>
<text transform="translate(181.42,894.40) scale(0.4213,0.4000)" font-size="100" style="fill:#262626"><tspan font-style="italic">M</tspan></text>
<text transform="translate(233.04,32.90) scale(0.4361,0.4000)" font-size="100" style="fill:#262626"><tspan font-style="italic">K</tspan></text>
<text transform="translate(233.04,894.40) scale(0.4361,0.4000)" font-size="100" style="fill:#262626"><tspan font-style="italic">K</tspan></text>
<text transform="translate(332.65,32.90) scale(0.4173,0.4000)" font-size="100" style="fill:#262626">Γ</text>
<text transform="translate(332.65,894.40) scale(0.4173,0.4000)" font-size="100" style="fill:#262626">Γ</text>
<text transform="translate(485.57,33.32) scale(0.3939,0.4154)" font-size="100" style="fill:#262626"><tspan font-style="italic">A</tspan></text>
<text transform="translate(485.57,894.82) scale(0.3939,0.4154)" font-size="100" style="fill:#262626"><tspan font-style="italic">A</tspan></text>
<text transform="translate(568.86,32.90) scale(0.4577,0.4000)" font-size="100" style="fill:#262626"><tspan font-style="italic">L</tspan></text>
<text transform="translate(568.86,894.40) scale(0.4577,0.4000)" font-size="100" style="fill:#262626"><tspan font-style="italic">L</tspan></text>
<text transform="translate(713.60,32.90) scale(0.3978,0.4000)" font-size="100" style="fill:#262626"><tspan font-style="italic">M</tspan></text>
<text transform="translate(713.60,894.40) scale(0.3978,0.4000)" font-size="100" style="fill:#262626"><tspan font-style="italic">M</tspan></text>
<text transform="translate(49.53,75.15) scale(0.3745,0.3735)" font-size="100" style="fill:#262626">100</text>
<text transform="translate(68.72,180.24) scale(0.3696,0.3791)" font-size="100" style="fill:#262626">80</text>
<text transform="translate(68.72,285.34) scale(0.3696,0.3791)" font-size="100" style="fill:#262626">60</text>
<text transform="translate(69.48,390.44) scale(0.3617,0.3791)" font-size="100" style="fill:#262626">40</text>
<text transform="translate(68.72,495.54) scale(0.3696,0.3791)" font-size="100" style="fill:#262626">20</text>
<text transform="translate(86.13,600.64) scale(0.3929,0.3791)" font-size="100" style="fill:#262626">0</text>
<text transform="translate(55.46,653.05) scale(0.3819,0.3765)" font-size="100" style="fill:#262626">10<tspan font-style="italic">i</tspan></text>
<text transform="translate(30.67,429.16) rotate(-90) scale(0.4162,0.4141)" font-size="100" style="fill:#262626"><tspan font-style="italic">ħω</tspan> / meV</text>
<text transform="translate(128.17,635.94) scale(0.3825,0.4078)" font-size="100" style="fill:#262626">(a)</text>
<text transform="translate(797.94,635.94) scale(0.3889,0.4078)" font-size="100" style="fill:#262626">(b)</text>
<text transform="translate(127.38,740.75) scale(0.3796,0.4022)" font-size="100" style="fill:#262626">(c)</text>
<text transform="translate(127.34,844.28) scale(0.3898,0.4056)" font-size="100" style="fill:#262626">(d)</text>
<text transform="translate(768.85,33.77) scale(0.4510,0.4333)" font-size="100" style="fill:#a21ef0"><tspan font-style="italic">α</tspan></text>
<text transform="translate(794.27,19.00) scale(0.2825,0.2708)" font-size="100" style="fill:#a21ef0">2</text>
<text transform="translate(812.30,33.98) scale(0.4232,0.4344)" font-size="100" style="fill:#a21ef0"><tspan font-style="italic">F</tspan>(<tspan font-style="italic">ω</tspan>)</text>
<text transform="translate(915.63,34.08) scale(0.4157,0.4297)" font-size="100" style="fill:#0a960a"><tspan font-style="italic">λ</tspan>(<tspan font-style="italic">ω</tspan>)</text>
<text transform="translate(775.14,686.84) scale(0.4143,0.3806)" font-size="100" style="fill:#262626">0</text>
<text transform="translate(860.05,687.60) scale(0.3943,0.3864)" font-size="100" style="fill:#262626">1</text>
<text transform="translate(945.40,687.60) scale(0.4000,0.3923)" font-size="100" style="fill:#262626">2</text>
<text transform="translate(814.51,730.74) scale(0.4300,0.4299)" font-size="100" style="fill:#262626">DOS /</text>
<text transform="translate(764.63,778.65) scale(0.4356,0.4225)" font-size="100" style="fill:#262626">modes/meV</text>
<text transform="translate(740.10,824.31) scale(0.4493,0.3938)" font-size="100" style="fill:#262626">a.u.</text>
<text transform="translate(742.04,682.32) scale(0.4122,0.3848)" font-size="100" style="fill:#262626">3</text>
<text transform="translate(742.57,756.44) scale(0.3833,0.3776)" font-size="100" style="fill:#262626">0</text>
<text transform="translate(394.74,699.94) scale(0.4286,0.3596)" font-size="100" style="fill:#ff0000"><tspan font-style="italic">ν</tspan></text>
<text transform="translate(423.81,703.74) scale(0.5170,0.3640)" font-size="100" style="fill:#ff0000">=</text>
<text transform="translate(462.33,700.30) scale(0.3629,0.3530)" font-size="100" style="fill:#ff0000">1</text>
<text transform="translate(583.09,699.94) scale(0.4048,0.3596)" font-size="100" style="fill:#0000ff"><tspan font-style="italic">ν</tspan></text>
<text transform="translate(610.34,703.78) scale(0.5319,0.3560)" font-size="100" style="fill:#0000ff">=</text>
<text transform="translate(651.96,700.80) scale(0.3601,0.3677)" font-size="100" style="fill:#0000ff">2–27</text>
<text transform="translate(95.50,736.79) rotate(-90) scale(0.4564,0.4000)" font-size="100" style="fill:#262626"><tspan font-style="italic">λ</tspan><tspan font-size="70" font-weight="bold" dy="14">q</tspan><tspan font-size="70" font-style="italic">,ν</tspan></text>
<text transform="translate(90.47,832.19) rotate(-90) scale(0.4289,0.4010)" font-size="100" style="fill:#262626"><tspan font-style="italic">ζ</tspan><tspan font-size="70" font-weight="bold" dy="14">q</tspan></text>
</svg></body></html>
